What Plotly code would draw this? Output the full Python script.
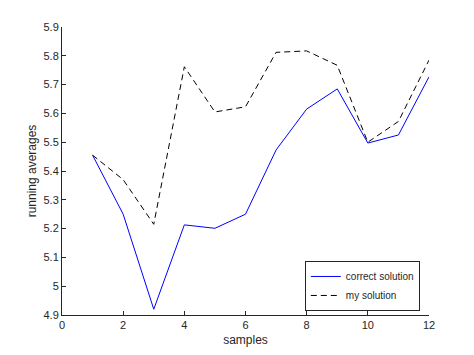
import plotly.graph_objects as go

samples = list(range(1, 13))
correct_solution = [5.455, 5.25, 4.92, 5.213, 5.201, 5.25, 5.473, 5.615, 5.685, 5.497, 5.525, 5.727]
my_solution = [5.455, 5.37, 5.215, 5.762, 5.605, 5.623, 5.812, 5.817, 5.767, 5.50, 5.572, 5.785]

fig = go.Figure()
fig.add_trace(go.Scatter(x=samples, y=correct_solution, mode="lines", name="correct solution",
                         line=dict(color="#0000ff", width=1)))
fig.add_trace(go.Scatter(x=samples, y=my_solution, mode="lines", name="my solution",
                         line=dict(color="#000000", width=1, dash="6px,4px")))

font_family = "Liberation Sans, Arial"
axis_common = dict(showgrid=False, zeroline=False, showline=True, linecolor="#262626", linewidth=1,
                   ticks="inside", ticklen=4, tickcolor="#262626", automargin=False,
                   tickfont=dict(family=font_family, size=11, color="#262626"))

fig.update_layout(
    width=458, height=339,
    margin=dict(l=54, r=37, t=19, b=32),
    paper_bgcolor="white", plot_bgcolor="white",
    xaxis=dict(range=[0, 12], tickvals=[0, 2, 4, 6, 8, 10, 12],
               title=dict(text="samples", font=dict(family=font_family, size=12, color="#262626"), standoff=10),
               **axis_common),
    yaxis=dict(range=[4.9, 5.9], tickvals=[4.9, 5.0, 5.1, 5.2, 5.3, 5.4, 5.5, 5.6, 5.7, 5.8, 5.9],
               ticktext=["4.9", "5", "5.1", "5.2", "5.3", "5.4", "5.5", "5.6", "5.7", "5.8", "5.9"],
               title=dict(text="running averages", font=dict(family=font_family, size=12, color="#262626"), standoff=4),
               **axis_common),
    legend=dict(x=0.975, y=0.014, xanchor="right", yanchor="bottom",
                bordercolor="#262626", borderwidth=1, bgcolor="white",
                font=dict(family=font_family, size=10, color="#262626"),
                tracegroupgap=0, itemwidth=30),
    showlegend=True,
)

fig.write_html("out.html")
